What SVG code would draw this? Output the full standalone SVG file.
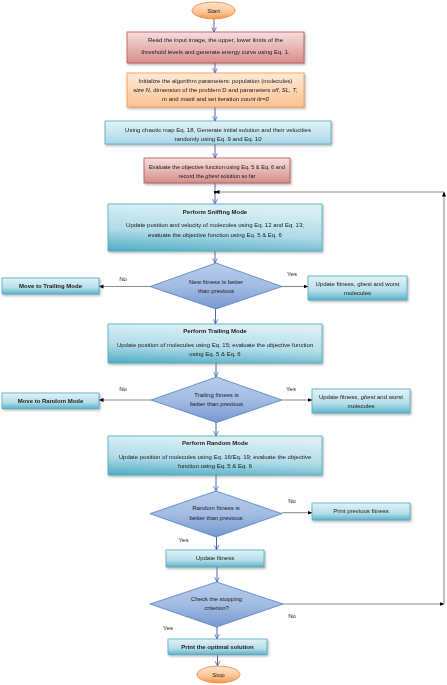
<svg xmlns="http://www.w3.org/2000/svg" width="447" height="685" viewBox="0 0 447 685">
<defs>
<linearGradient id="gOr" x1="0" y1="0" x2="0" y2="1"><stop offset="0" stop-color="#fde4cf"/><stop offset="0.6" stop-color="#fbc596"/><stop offset="1" stop-color="#f79646"/></linearGradient>
<linearGradient id="gRed" x1="0" y1="0" x2="0" y2="1"><stop offset="0" stop-color="#f5dedd"/><stop offset="1" stop-color="#d68e8c"/></linearGradient>
<linearGradient id="gOrBox" x1="0" y1="0" x2="0" y2="1"><stop offset="0" stop-color="#fde9d9"/><stop offset="1" stop-color="#fac28f"/></linearGradient>
<linearGradient id="gCy" x1="0" y1="0" x2="0" y2="1"><stop offset="0" stop-color="#e4f3f7"/><stop offset="1" stop-color="#a9d8e5"/></linearGradient>
<linearGradient id="gMode" x1="0.2" y1="0" x2="0" y2="1"><stop offset="0" stop-color="#d9eff5"/><stop offset="0.55" stop-color="#afdbe7"/><stop offset="1" stop-color="#4eabc4"/></linearGradient>
<linearGradient id="gSmall" x1="0" y1="0" x2="0" y2="1"><stop offset="0" stop-color="#e2f2f7"/><stop offset="0.6" stop-color="#b6dee9"/><stop offset="1" stop-color="#5db4cb"/></linearGradient>
<linearGradient id="gDia" x1="0" y1="0" x2="0" y2="1"><stop offset="0" stop-color="#b8cceb"/><stop offset="0.5" stop-color="#a3bce3"/><stop offset="1" stop-color="#7797d0"/></linearGradient>
<filter id="sh" x="-10%" y="-10%" width="130%" height="150%"><feDropShadow dx="1.2" dy="1.5" stdDeviation="0.8" flood-color="#7f7f7f" flood-opacity="0.6"/></filter>
<marker id="aB" viewBox="0 0 10 10" refX="9" refY="5" markerWidth="6" markerHeight="6" orient="auto" markerUnits="userSpaceOnUse"><path d="M1,1 L9,5 L1,9" fill="none" stroke="#3b55a0" stroke-width="1.2"/></marker>
<marker id="aK" viewBox="0 0 10 10" refX="9" refY="5" markerWidth="5" markerHeight="5" orient="auto" markerUnits="userSpaceOnUse"><path d="M0,1 L10,5 L0,9 Z" fill="#000"/></marker>
</defs>
<style>
text{font-family:"Liberation Sans",Arial,sans-serif;font-size:6px;fill:#1a1a1a;text-anchor:middle}
.b{font-weight:bold}
.i{font-style:italic}
.s{font-size:5.6px}
.red{fill:url(#gRed);stroke:#c0504d;stroke-width:0.8}
.org{fill:url(#gOrBox);stroke:#f79646;stroke-width:0.8}
.cy{fill:url(#gCy);stroke:#4bacc6;stroke-width:0.8}
.mode{fill:url(#gMode);stroke:#4bacc6;stroke-width:0.8}
.sm{fill:url(#gSmall);stroke:#4bacc6;stroke-width:0.8}
.dia{fill:url(#gDia);stroke:#4f81bd;stroke-width:0.8}
.ell{fill:url(#gOr);stroke:#e98a3f;stroke-width:0.8}
.v{stroke:#3b55a0;stroke-width:0.9;fill:none}
.h{stroke:#8c8c8c;stroke-width:1.1;fill:none}
</style>
<g id="connectors">
<path class="v" d="M214,19 V32" marker-end="url(#aB)"/>
<path class="v" d="M215,63 V73" marker-end="url(#aB)"/>
<path class="v" d="M215,107 V121" marker-end="url(#aB)"/>
<path class="v" d="M215,144 V158" marker-end="url(#aB)"/>
<path class="v" d="M215,183 V204" marker-end="url(#aB)"/>
<path class="v" d="M215,251 V263" marker-end="url(#aB)"/>
<path class="v" d="M215.5,309 V324" marker-end="url(#aB)"/>
<path class="v" d="M216,363 V377" marker-end="url(#aB)"/>
<path class="v" d="M216,422 V436" marker-end="url(#aB)"/>
<path class="v" d="M216,475 V491" marker-end="url(#aB)"/>
<path class="v" d="M216.5,537 V550" marker-end="url(#aB)"/>
<path class="v" d="M217,567 V582" marker-end="url(#aB)"/>
<path class="v" d="M217,627 V639" marker-end="url(#aB)"/>
<path class="v" d="M217.5,654 V666" marker-end="url(#aB)"/>
<path class="h" d="M150,286.5 H99" marker-end="url(#aK)"/>
<path class="h" d="M282,286.5 H308" marker-end="url(#aK)"/>
<path class="h" d="M151,400 H99" marker-end="url(#aK)"/>
<path class="h" d="M282,400 H312" marker-end="url(#aK)"/>
<path class="h" d="M282,512.7 H312" marker-end="url(#aK)"/>
<path class="h" d="M283,604 H444" marker-end="url(#aK)"/>
<path class="h" d="M444,604 V192" marker-end="url(#aK)"/>
<path class="h" d="M444,192 H215" marker-end="url(#aK)"/>
<text x="123" y="280.5">No</text>
<text x="292" y="275.5">Yes</text>
<text x="123" y="391">No</text>
<text x="291" y="390.5">Yes</text>
<text x="292" y="503">No</text>
<text x="183.5" y="542">Yes</text>
<text x="292" y="618">No</text>
<text x="168" y="630">Yes</text>
</g>
<g id="start"><ellipse class="ell" cx="213.5" cy="10.5" rx="21.5" ry="8.5"/><text x="213.5" y="12.6">Start</text></g>
<g id="read" filter="url(#sh)"><rect class="red" x="127" y="32" width="177" height="31"/><text x="215.5" y="41.5">Read the input image, the upper, lower limits of the</text><text x="215.5" y="53.5">threshold levels and generate energy curve using Eq. 1.</text></g>
<g id="init" filter="url(#sh)"><rect class="org" x="127" y="73" width="177" height="34"/>
<text x="215.5" y="83">Initialize the algorithm parameters: population (molecules)</text>
<text x="215.5" y="91.5"><tspan class="i">size N</tspan>, dimension of the problem D and parameters <tspan class="i">olf</tspan>, <tspan class="i">SL</tspan>, <tspan class="i">T</tspan>,</text>
<text x="215.5" y="100.5"><tspan class="i">m</tspan> and <tspan class="i">maxit</tspan> and set iteration <tspan class="i">count itr=0</tspan></text></g>
<g id="chaotic" filter="url(#sh)"><rect class="cy" x="105" y="121" width="226" height="23"/><text x="218" y="132">Using chaotic map Eq. 18, Generate initial solution and their velocities</text><text x="218" y="140.5">randomly using Eq. 9 and Eq. 10</text></g>
<g id="evaluate" filter="url(#sh)"><rect class="red" x="144" y="158" width="146" height="25"/><text class="s" x="217" y="168.5">Evaluate the objective function using Eq. 5 &amp; Eq. 6 and</text><text class="s" x="217" y="177.5">record the <tspan class="i">gbest</tspan> solution so far</text></g>
<g id="junction"><rect x="214" y="191" width="2.4" height="2.4" fill="#000"/></g>
<g id="sniffing" filter="url(#sh)"><rect class="mode" x="108" y="204" width="214" height="47"/><text class="b" x="215" y="214">Perform Sniffing Mode</text><text x="215" y="227">Update position and velocity of molecules using Eq. 12 and Eq. 13;</text><text x="215" y="237">evaluate the objective function using Eq. 5 &amp; Eq. 6</text></g>
<g id="dec1"><polygon class="dia" points="216,263 282,286.5 216,309 150,286.5"/><text x="216" y="283.5">New fitness is better</text><text x="216" y="293">than previous</text></g>
<g id="moveTrailing" filter="url(#sh)"><rect class="sm" x="2" y="278" width="97" height="16"/><text class="b" x="50.5" y="288">Move to Trailing Mode</text></g>
<g id="update1" filter="url(#sh)"><rect class="sm" x="308" y="276" width="99" height="24"/><text x="357.5" y="285.5">Update fitness, gbest and worst</text><text x="357.5" y="294.5">molecules</text></g>
<g id="trailing" filter="url(#sh)"><rect class="mode" x="108" y="324" width="214" height="39"/><text class="b" x="215" y="333">Perform Trailing Mode</text><text x="215" y="347">Update position of molecules using Eq. 15; evaluate the objective function</text><text x="215" y="355.5">using Eq. 5 &amp; Eq. 6</text></g>
<g id="dec2"><polygon class="dia" points="216.5,377 282,400 216.5,422.5 151,400"/><text x="216.5" y="397">Trailing fitness is</text><text x="216.5" y="406">better than previous</text></g>
<g id="moveRandom" filter="url(#sh)"><rect class="sm" x="2" y="393" width="97" height="15.5"/><text class="b" x="50.5" y="403">Move to Random Mode</text></g>
<g id="update2" filter="url(#sh)"><rect class="sm" x="312" y="389" width="98" height="24"/><text x="361" y="398.5">Update fitness, <tspan class="i">gbest</tspan> and worst</text><text x="361" y="407.5">molecules</text></g>
<g id="random" filter="url(#sh)"><rect class="mode" x="108" y="436" width="214" height="39"/><text class="b" x="215" y="445">Perform Random Mode</text><text x="215" y="458.5">Update position of molecules using Eq. 16/Eq. 19; evaluate the objective</text><text x="215" y="467.5">function using Eq. 5 &amp; Eq. 6</text></g>
<g id="dec3"><polygon class="dia" points="216,491 282,513.7 216,537 150,513.7"/><text x="216" y="509.5">Random fitness is</text><text x="216" y="519.5">better than previous</text></g>
<g id="printPrev" filter="url(#sh)"><rect class="sm" x="312" y="503" width="98" height="17"/><text x="361" y="513">Print previous fitness</text></g>
<g id="updateFit" filter="url(#sh)"><rect class="sm" x="166" y="550" width="98" height="17"/><text x="215" y="560">Update fitness</text></g>
<g id="dec4"><polygon class="dia" points="216.5,582 283,604 216.5,627 150,604"/><text x="216.5" y="600.5">Check the stopping</text><text x="216.5" y="609.5">criterion?</text></g>
<g id="printOpt" filter="url(#sh)"><rect class="sm" x="168" y="639" width="99" height="15.5"/><text class="b" x="217.5" y="648.5">Print the optimal solution</text></g>
<g id="stop"><ellipse class="ell" cx="218.5" cy="674.5" rx="21.5" ry="8.5"/><text x="218.5" y="676.6">Stop</text></g>
</svg>
